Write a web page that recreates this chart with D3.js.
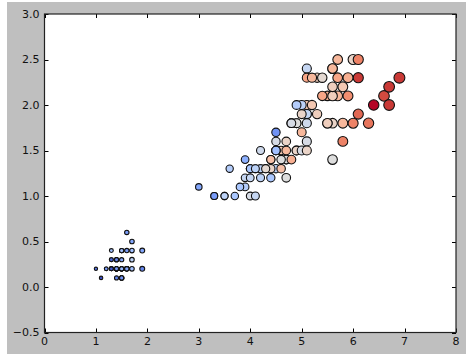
<!DOCTYPE html>
<html>
<head>
<meta charset="utf-8">
<script src="https://cdn.jsdelivr.net/npm/d3@7"></script>
<style>
html,body{margin:0;padding:0;background:#fff;}
svg{display:block;}
text{font-family:"DejaVu Sans",sans-serif;font-size:11px;fill:#111;}
</style>
</head>
<body>
<svg id="chart" width="474" height="362"></svg>
<script>
// Iris: petal length (x), petal width (y), sepal length (colour)
const petalLength = [
1.4,1.4,1.3,1.5,1.4,1.7,1.4,1.5,1.4,1.5,1.5,1.6,1.4,1.1,1.2,1.5,1.3,1.4,1.7,1.5,
1.7,1.5,1.0,1.7,1.9,1.6,1.6,1.5,1.4,1.6,1.6,1.5,1.5,1.4,1.5,1.2,1.3,1.5,1.3,1.5,
1.3,1.3,1.3,1.6,1.9,1.4,1.6,1.4,1.5,1.4,
4.7,4.5,4.9,4.0,4.6,4.5,4.7,3.3,4.6,3.9,3.5,4.2,4.0,4.7,3.6,4.4,4.5,4.1,4.5,3.9,
4.8,4.0,4.9,4.7,4.3,4.4,4.8,5.0,4.5,3.5,3.8,3.7,3.9,5.1,4.5,4.5,4.7,4.4,4.1,4.0,
4.4,4.6,4.0,3.3,4.2,4.2,4.2,4.3,3.0,4.1,
6.0,5.1,5.9,5.6,5.8,6.6,4.5,6.3,5.8,6.1,5.1,5.3,5.5,5.0,5.1,5.3,5.5,6.7,6.9,5.0,
5.7,4.9,6.7,4.9,5.7,6.0,4.8,4.9,5.6,5.8,6.1,6.4,5.6,5.1,5.6,6.1,5.6,5.5,4.8,5.4,
5.6,5.1,5.1,5.9,5.7,5.2,5.0,5.2,5.4,5.1];
const petalWidth = [
0.2,0.2,0.2,0.2,0.2,0.4,0.3,0.2,0.2,0.1,0.2,0.2,0.1,0.1,0.2,0.4,0.4,0.3,0.3,0.3,
0.2,0.4,0.2,0.5,0.2,0.2,0.4,0.2,0.2,0.2,0.2,0.4,0.1,0.2,0.1,0.2,0.2,0.1,0.2,0.2,
0.3,0.3,0.2,0.6,0.4,0.3,0.2,0.2,0.2,0.2,
1.4,1.5,1.5,1.3,1.5,1.3,1.6,1.0,1.3,1.4,1.0,1.5,1.0,1.4,1.3,1.4,1.5,1.0,1.5,1.1,
1.8,1.3,1.5,1.2,1.3,1.4,1.4,1.7,1.5,1.0,1.1,1.0,1.2,1.6,1.5,1.6,1.5,1.3,1.3,1.3,
1.2,1.4,1.2,1.0,1.3,1.2,1.3,1.3,1.1,1.3,
2.5,1.9,2.1,1.8,2.2,2.1,1.7,1.8,1.8,2.5,2.0,1.9,2.1,2.0,2.4,2.3,1.8,2.2,2.3,1.5,
2.3,2.0,2.0,1.8,2.1,1.8,1.8,1.8,2.1,1.6,1.9,2.0,2.2,1.5,1.4,2.3,2.4,1.8,1.8,2.1,
2.4,2.3,1.9,2.3,2.5,2.3,1.9,2.0,2.3,1.8];
const sepalLength = [
5.1,4.9,4.7,4.6,5.0,5.4,4.6,5.0,4.4,4.9,5.4,4.8,4.8,4.3,5.8,5.7,5.4,5.1,5.7,5.1,
5.4,5.1,4.6,5.1,4.8,5.0,5.0,5.2,5.2,4.7,4.8,5.4,5.2,5.5,4.9,5.0,5.5,4.9,4.4,5.1,
5.0,4.5,4.4,5.0,5.1,4.8,5.1,4.6,5.3,5.0,
7.0,6.4,6.9,5.5,6.5,5.7,6.3,4.9,6.6,5.2,5.0,5.9,6.0,6.1,5.6,6.7,5.6,5.8,6.2,5.6,
5.9,6.1,6.3,6.1,6.4,6.6,6.8,6.7,6.0,5.7,5.5,5.5,5.8,6.0,5.4,6.0,6.7,6.3,5.6,5.5,
5.5,6.1,5.8,5.0,5.6,5.7,5.7,6.2,5.1,5.7,
6.3,5.8,7.1,6.3,6.5,7.6,4.9,7.3,6.7,7.2,6.5,6.4,6.8,5.7,5.8,6.4,6.5,7.7,7.7,6.0,
6.9,5.6,7.7,6.3,6.7,7.2,6.2,6.1,6.4,7.2,7.4,7.9,6.4,6.3,6.1,7.7,6.3,6.4,6.0,6.9,
6.7,6.9,5.8,6.8,6.7,6.7,6.3,6.5,6.2,5.9];

const xTicks = [0,1,2,3,4,5,6,7,8];
const yTicks = [-0.5,0.0,0.5,1.0,1.5,2.0,2.5,3.0];

// matplotlib "coolwarm" (Moreland) stops
const coolwarmStops = [
[59,76,192],[68,90,204],[77,104,215],[87,117,225],[98,130,234],[108,142,241],
[119,154,247],[130,165,251],[141,176,254],[152,185,255],[163,194,255],[174,201,253],
[184,208,249],[194,213,244],[204,217,238],[213,219,230],[221,221,221],[229,216,209],
[236,211,197],[241,204,185],[245,196,173],[247,187,160],[247,177,148],[247,166,135],
[244,154,123],[241,141,111],[236,127,99],[229,112,88],[222,96,77],[213,80,66],
[203,62,56],[192,40,47],[180,4,38]];

const svg = d3.select("#chart");
// figure background
svg.append("rect").attr("x",7).attr("y",2).attr("width",459).attr("height",352).attr("fill","#bfbfbf");

const L=44.5, R=456, T=14, B=332.5;
const x = d3.scaleLinear().domain([0,8]).range([L,R]);
const y = d3.scaleLinear().domain([-0.5,3.0]).range([B,T]);

svg.append("rect").attr("x",L).attr("y",T).attr("width",R-L).attr("height",B-T).attr("fill","#fff");

const cmap = d3.scaleLinear()
  .domain(coolwarmStops.map((d,i)=>i/(coolwarmStops.length-1)))
  .range(coolwarmStops.map(c=>d3.rgb(c[0],c[1],c[2]).toString()))
  .interpolate(d3.interpolateRgb);
const cNorm = d3.scaleLinear().domain(d3.extent(sepalLength)).range([0,1]);
const rScale = d3.scalePow().exponent(0.62).domain([0,1]).range([0,1.65]);

const data = petalLength.map((pl,i)=>({pl, pw:petalWidth[i], sl:sepalLength[i]}));

const clipId="plotclip";
svg.append("clipPath").attr("id",clipId).append("rect").attr("x",L).attr("y",T).attr("width",R-L).attr("height",B-T);

svg.append("g").attr("clip-path",`url(#${clipId})`)
  .selectAll("circle").data(data).join("circle")
  .attr("cx",d=>x(d.pl)).attr("cy",d=>y(d.pw))
  .attr("r",d=>rScale(d.pl))
  .attr("fill",d=>cmap(cNorm(d.sl)))
  .attr("stroke","#111").attr("stroke-width",1.1);

// ticks (inward, all four sides)
const tl=4;
const g = svg.append("g").attr("stroke","#000").attr("stroke-width",1);
xTicks.forEach(t=>{
  const px=Math.round(x(t))+0.5;
  g.append("line").attr("x1",px).attr("x2",px).attr("y1",B).attr("y2",B-tl);
  g.append("line").attr("x1",px).attr("x2",px).attr("y1",T).attr("y2",T+tl);
});
yTicks.forEach(t=>{
  const py=Math.round(y(t))+0.5;
  g.append("line").attr("x1",L).attr("x2",L+tl).attr("y1",py).attr("y2",py);
  g.append("line").attr("x1",R).attr("x2",R-tl).attr("y1",py).attr("y2",py);
});
// spines
svg.append("rect").attr("x",L).attr("y",T).attr("width",R-L).attr("height",B-T)
  .attr("fill","none").attr("stroke","#222").attr("stroke-width",1.2);

// labels
const fmtY = v => (v<0?"\u2212":"") + Math.abs(v).toFixed(1);
svg.append("g").selectAll("text").data(xTicks).join("text")
  .attr("x",d=>x(d)).attr("y",345).attr("text-anchor","middle").text(d=>String(d));
svg.append("g").selectAll("text").data(yTicks).join("text")
  .attr("x",39.5).attr("y",d=>y(d)).attr("dy","0.36em").attr("text-anchor","end").text(fmtY);
</script>
</body>
</html>
